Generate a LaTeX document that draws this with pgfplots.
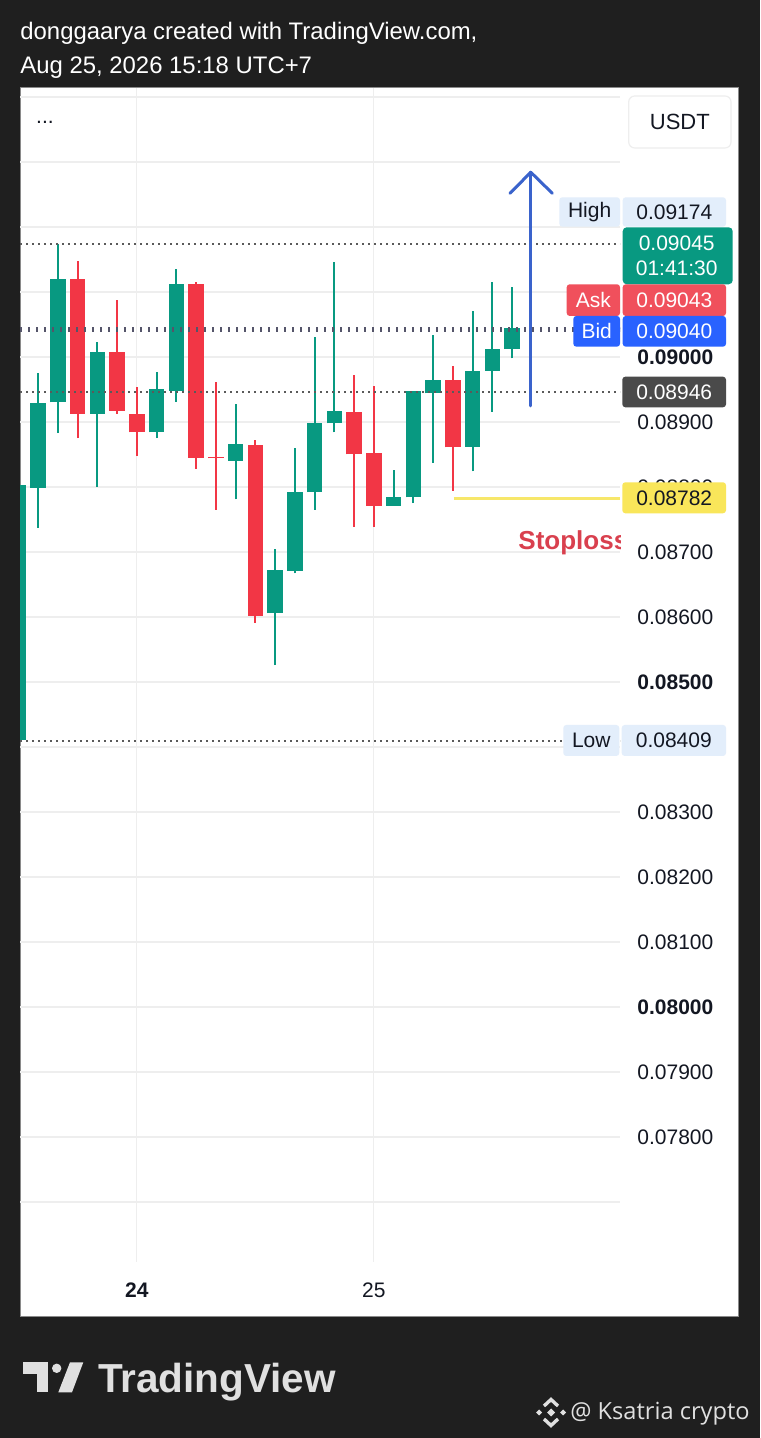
\documentclass[border=0pt]{standalone}
\usepackage{pgfplots}
\pgfplotsset{compat=1.18}
\usepackage{pgfplotstable}
\usepackage{fontspec}
\setmainfont{Liberation Sans}
\newfontfamily\osans{Open Sans}

\definecolor{bg}{HTML}{1F1F1F}
\definecolor{tvgreen}{HTML}{089981}
\definecolor{tvred}{HTML}{F23645}
\definecolor{gridcol}{HTML}{EEEEEE}
\definecolor{lblue}{HTML}{E3EEFB}
\definecolor{askred}{HTML}{F0505C}
\definecolor{bidblue}{HTML}{2962FF}
\definecolor{darkbox}{HTML}{4A4A4A}
\definecolor{ybox}{HTML}{F9E65A}
\definecolor{yline}{HTML}{F7E76A}
\definecolor{arrowblue}{HTML}{3A63CC}
\definecolor{stopred}{HTML}{D9404E}
\definecolor{tvtext}{HTML}{131722}
\definecolor{dotcol}{HTML}{5A5A5A}
\definecolor{pricedot}{HTML}{55556A}
\definecolor{panelborder}{HTML}{8A8A8A}
\definecolor{logocol}{HTML}{E0E0E0}

% candles: index, open, high, low, close (2-hour candles)
\pgfplotstableread{
i o h l c
0 0.08410 0.08830 0.08409 0.08803
1 0.08799 0.08975 0.08737 0.08929
2 0.08930 0.09174 0.08883 0.09120
4 0.08913 0.09023 0.08800 0.09007
7 0.08884 0.08977 0.08875 0.08950
8 0.08948 0.09136 0.08931 0.09113
11 0.08840 0.08928 0.08781 0.08866
13 0.08606 0.08704 0.08526 0.08672
14 0.08671 0.08860 0.08667 0.08792
15 0.08792 0.09031 0.08765 0.08898
16 0.08898 0.09146 0.08884 0.08917
19 0.08771 0.08826 0.08771 0.08784
20 0.08784 0.08948 0.08775 0.08947
21 0.08944 0.09034 0.08837 0.08965
23 0.08862 0.09071 0.08824 0.08979
24 0.08979 0.09115 0.08916 0.09013
25 0.09012 0.09107 0.08998 0.09045
}\greendata

\pgfplotstableread{
i o h l c
3 0.09120 0.09148 0.08875 0.08913
5 0.09007 0.09088 0.08913 0.08917
6 0.08913 0.08954 0.08848 0.08884
9 0.09112 0.09116 0.08828 0.08845
10 0.08846 0.08962 0.08765 0.08844
12 0.08865 0.08873 0.08591 0.08602
17 0.08916 0.08973 0.08739 0.08850
18 0.08852 0.08955 0.08739 0.08771
22 0.08965 0.08986 0.08794 0.08861
}\reddata

\newcommand{\lblfont}{\fontsize{10.5pt}{12pt}\selectfont}

\begin{document}
\begin{tikzpicture}
\path[use as bounding box] (0,0) rectangle (380pt,719pt);
\begin{scope}[x=0.5pt,y=-0.5pt,yshift=719pt]
  \fill[bg] (0,0) rectangle (760,1438);
  \fill[white] (20,88) rectangle (738,1317);
  \draw[panelborder, line width=0.5pt] (20,88) rectangle (738,1317);
  \node[anchor=base west, inner sep=0pt, text=white, font=\fontsize{11.95pt}{14pt}\selectfont] at (20,39.3) {donggaarya created with TradingView.com,};
  \node[anchor=base west, inner sep=0pt, text=white, font=\fontsize{11.95pt}{14pt}\selectfont] at (20,73.3) {Aug 25, 2026 15:18 UTC+7};
\end{scope}

\begin{axis}[
  at={(10pt,88pt)}, anchor=south west,
  scale only axis, width=300pt, height=587pt,
  xmin=0.0886, xmax=30.468,
  ymin=0.076077, ymax=0.094138,
  axis line style={draw=none},
  major tick length=0pt,
  scaled y ticks=false,
  xtick={6,18}, xticklabels={\textbf{24},25},
  ytick={0.077,0.078,0.079,0.080,0.081,0.082,0.083,0.084,0.085,0.086,0.087,0.088,0.089,0.090,0.091,0.092,0.093,0.094},
  yticklabels={{},0.07800,0.07900,\textbf{0.08000},0.08100,0.08200,0.08300,{},\textbf{0.08500},0.08600,0.08700,0.08800,0.08900,\textbf{0.09000},{},{},{},{}},
  ytick pos=right, yticklabel pos=right,
  yticklabel style={anchor=west, inner sep=0pt, xshift=8.5pt, font=\lblfont, text=tvtext},
  xticklabel style={anchor=north, inner sep=0pt, yshift=-10pt, font=\lblfont, text=tvtext},
  xmajorgrids, ymajorgrids,
  grid style={draw=gridcol, line width=0.6pt},
]
% wicks
\addplot[draw=none, no markers, forget plot, error bars/.cd, y dir=plus, y explicit, error mark=none,
  error bar style={line width=1pt, draw=tvgreen}]
  table[x=i, y=l, y error plus expr={\thisrow{h}-\thisrow{l}}] {\greendata};
\addplot[draw=none, no markers, forget plot, error bars/.cd, y dir=plus, y explicit, error mark=none,
  error bar style={line width=1pt, draw=tvred}]
  table[x=i, y=l, y error plus expr={\thisrow{h}-\thisrow{l}}] {\reddata};
% bodies
\addplot[draw=none, no markers, forget plot, error bars/.cd, y dir=plus, y explicit, error mark=none,
  error bar style={line width=7.75pt, draw=tvgreen}]
  table[x=i, y=o, y error plus expr={\thisrow{c}-\thisrow{o}}] {\greendata};
\addplot[draw=none, no markers, forget plot, error bars/.cd, y dir=plus, y explicit, error mark=none,
  error bar style={line width=7.75pt, draw=tvred}]
  table[x=i, y=c, y error plus expr={\thisrow{o}-\thisrow{c}}] {\reddata};
% price level lines
\addplot[dotcol, line width=0.75pt, dash pattern=on 0.75pt off 2.25pt] coordinates {(0.0886,0.09174) (30.468,0.09174)};
\addplot[dotcol, line width=0.75pt, dash pattern=on 0.75pt off 2.25pt] coordinates {(0.0886,0.08946) (30.468,0.08946)};
\addplot[dotcol, line width=0.75pt, dash pattern=on 0.75pt off 2.25pt] coordinates {(0.0886,0.08409) (30.468,0.08409)};
\addplot[pricedot, line width=1pt, dash pattern=on 1pt off 3pt] coordinates {(0.0886,0.09045) (30.468,0.09045)};
\addplot[pricedot, line width=1pt, dash pattern=on 1pt off 3pt] coordinates {(0.0886,0.09043) (30.468,0.09043)};
\addplot[pricedot, line width=1pt, dash pattern=on 1pt off 3pt] coordinates {(0.0886,0.09040) (30.468,0.09040)};
% stoploss
\addplot[yline, line width=1.75pt] coordinates {(22.06,0.08782) (30.468,0.08782)};
% target arrow
\addplot[arrowblue, line width=1.5pt, line cap=round] coordinates {(25.95,0.089246) (25.95,0.092842)};
\addplot[arrowblue, line width=1.5pt, line cap=round, line join=round] coordinates {(24.90,0.092518) (25.95,0.092842) (27.04,0.092518)};
\end{axis}

\begin{scope}[x=0.5pt,y=-0.5pt,yshift=719pt]
  % stoploss text, clipped by plot area
  \begin{scope}
    \clip (20,88) rectangle (620,1262);
    \node[anchor=base west, inner sep=0pt, text=stopred, font=\bfseries\fontsize{13pt}{15pt}\selectfont] at (518,550) {Stoploss};
  \end{scope}
  % top-left and top-right
  \node[inner sep=0pt, text=tvtext, font=\lblfont] at (45,122) {...};
  \draw[draw=gridcol, fill=white, rounded corners=3pt, line width=0.6pt] (628.7,96) rectangle (731,148);
  \node[inner sep=0pt, text=tvtext, font=\fontsize{11pt}{13pt}\selectfont] at (679.8,122) {USDT};
  % High
  \fill[lblue, rounded corners=1.5pt] (559.3,197.3) rectangle (620,226.7);
  \node[inner sep=0pt, text=tvtext, font=\lblfont] at (589.6,212) {High};
  \fill[lblue, rounded corners=1.5pt] (622.7,197.3) rectangle (726,226.7);
  \node[inner sep=0pt, text=tvtext, font=\lblfont] at (674.3,212) {0.09174};
  % current price
  \fill[tvgreen, rounded corners=2pt] (622.7,227.3) rectangle (732.7,284.3);
  \node[inner sep=0pt, text=white, font=\lblfont] at (676.7,243.3) {0.09045};
  \node[inner sep=0pt, text=white, font=\lblfont] at (676.7,268.3) {01:41:30};
  % Ask
  \fill[askred, rounded corners=1.5pt] (566.7,284.3) rectangle (620,316);
  \node[inner sep=0pt, text=white, font=\lblfont] at (593.3,300.2) {Ask};
  \fill[askred, rounded corners=1.5pt] (622.7,284.3) rectangle (726,316);
  \node[inner sep=0pt, text=white, font=\lblfont] at (674.3,300.2) {0.09043};
  % Bid
  \fill[bidblue, rounded corners=1.5pt] (573.3,316) rectangle (620,346.7);
  \node[inner sep=0pt, text=white, font=\lblfont] at (596.7,331.3) {Bid};
  \fill[bidblue, rounded corners=1.5pt] (622.7,316) rectangle (726,346.7);
  \node[inner sep=0pt, text=white, font=\lblfont] at (674.3,331.3) {0.09040};
  % 0.08946
  \fill[darkbox, rounded corners=1.5pt] (622.3,376.7) rectangle (726,407.3);
  \node[inner sep=0pt, text=white, font=\lblfont] at (674.2,392) {0.08946};
  % stoploss value
  \fill[ybox, rounded corners=1.5pt] (622.3,482.3) rectangle (726,513.3);
  \node[inner sep=0pt, text=tvtext, font=\lblfont] at (674.2,497.8) {0.08782};
  % Low
  \fill[lblue, rounded corners=1.5pt] (563.3,725) rectangle (619.3,756);
  \node[inner sep=0pt, text=tvtext, font=\lblfont] at (591.3,740.5) {Low};
  \fill[lblue, rounded corners=1.5pt] (621.7,725) rectangle (726,756);
  \node[inner sep=0pt, text=tvtext, font=\lblfont] at (673.8,740.5) {0.08409};
  % TradingView logo
  \fill[logocol] (23.3,1362.3) rectangle (48.3,1374);
  \fill[logocol] (36.7,1362.3) rectangle (48.3,1392.3);
  \fill[logocol] (56.7,1368.3) circle (4.7);
  \fill[logocol] (70,1362.3) -- (83.3,1362.3) -- (72,1392.3) -- (58.3,1392.3) -- cycle;
  \node[anchor=base west, inner sep=0pt, text=logocol, font=\bfseries\fontsize{20.25pt}{24pt}\selectfont] at (97.7,1392.3) {TradingView};
  % watermark
  \begin{scope}[logocol]
    \fill (551,1408.5) -- (555,1412.5) -- (551,1416.5) -- (547,1412.5) -- cycle;
    \fill (539,1409.5) -- (542,1412.5) -- (539,1415.5) -- (536,1412.5) -- cycle;
    \fill (563,1409.5) -- (566,1412.5) -- (563,1415.5) -- (560,1412.5) -- cycle;
    \draw[line width=1.7pt] (544,1406) -- (551,1399.5) -- (558,1406);
    \draw[line width=1.7pt] (544,1419) -- (551,1425.5) -- (558,1419);
  \end{scope}
  \node[anchor=base west, inner sep=0pt, text=logocol, font=\osans\fontsize{11.8pt}{14pt}\selectfont] at (570,1419.3) {@ Ksatria crypto};
\end{scope}
\end{tikzpicture}
\end{document}
